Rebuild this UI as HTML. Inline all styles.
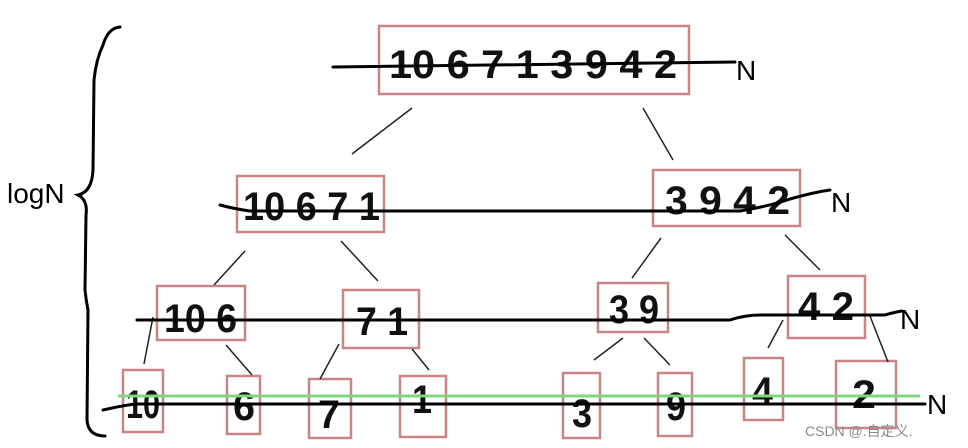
<!DOCTYPE html>
<html><head><meta charset="utf-8"><style>
html,body{margin:0;padding:0;background:#fff;width:968px;height:448px;overflow:hidden}
svg{display:block}
.b{fill:#fff;stroke:#c98585;stroke-width:2.5}
.t{font-family:"Liberation Sans",sans-serif;font-weight:bold;font-size:40px;fill:#111}
.c{stroke:#222;stroke-width:1.5}
.k{stroke:#000;stroke-width:3;fill:none;stroke-linecap:round}
.n{font-family:"Liberation Sans",sans-serif;font-size:28px;fill:#000}
</style></head><body>
<svg width="968" height="448" viewBox="0 0 968 448">
<rect class="b" x="379" y="26" width="310" height="68"/>
<rect class="b" x="237" y="176" width="147" height="56"/>
<rect class="b" x="653" y="170" width="147" height="56"/>
<rect class="b" x="157" y="286" width="88" height="54"/>
<rect class="b" x="343" y="290" width="76" height="58"/>
<rect class="b" x="598" y="283" width="70" height="49"/>
<rect class="b" x="788" y="276" width="77" height="62"/>
<rect class="b" x="123" y="370" width="40" height="62"/>
<rect class="b" x="227" y="376" width="33" height="58"/>
<rect class="b" x="309" y="379" width="42" height="59"/>
<rect class="b" x="400" y="376" width="46" height="61"/>
<rect class="b" x="563" y="373" width="37" height="65"/>
<rect class="b" x="658" y="373" width="34" height="63"/>
<rect class="b" x="744" y="358" width="39" height="62"/>
<rect class="b" x="836" y="361" width="60" height="67"/>
<g class="t">
<text x="389" y="78" textLength="288" lengthAdjust="spacingAndGlyphs">10 6 7 1 3 9 4 2</text>
<text x="243" y="220" textLength="137" lengthAdjust="spacingAndGlyphs">10 6 7 1</text>
<text x="665" y="214" textLength="125" lengthAdjust="spacingAndGlyphs">3 9 4 2</text>
<text x="164" y="332" textLength="73" lengthAdjust="spacingAndGlyphs">10 6</text>
<text x="356" y="335" textLength="52" lengthAdjust="spacingAndGlyphs">7 1</text>
<text x="609" y="323" textLength="50" lengthAdjust="spacingAndGlyphs">3 9</text>
<text x="798" y="320" textLength="56" lengthAdjust="spacingAndGlyphs">4 2</text>
<text x="126" y="418" textLength="34" lengthAdjust="spacingAndGlyphs">10</text>
<text x="233" y="420" textLength="22" lengthAdjust="spacingAndGlyphs">6</text>
<text x="318" y="428" textLength="22" lengthAdjust="spacingAndGlyphs">7</text>
<text x="412" y="413" textLength="20" lengthAdjust="spacingAndGlyphs">1</text>
<text x="572" y="427" textLength="20" lengthAdjust="spacingAndGlyphs">3</text>
<text x="666" y="420" textLength="20" lengthAdjust="spacingAndGlyphs">9</text>
<text x="752" y="405" textLength="21" lengthAdjust="spacingAndGlyphs">4</text>
<text x="852" y="408" textLength="24" lengthAdjust="spacingAndGlyphs">2</text>
</g>
<g class="c">
<line x1="412" y1="108" x2="352" y2="154"/><line x1="643" y1="108" x2="673" y2="160"/>
<line x1="245" y1="251" x2="214" y2="285"/><line x1="341" y1="241" x2="378" y2="281"/>
<line x1="661" y1="238" x2="632" y2="278"/><line x1="785" y1="235" x2="820" y2="270"/>
<line x1="153" y1="317" x2="144" y2="364"/><line x1="226" y1="345" x2="252" y2="375"/>
<line x1="339" y1="344" x2="320" y2="379"/><line x1="412" y1="349" x2="429" y2="370"/>
<line x1="623" y1="338" x2="594" y2="360"/><line x1="644" y1="338" x2="670" y2="365"/>
<line x1="783" y1="320" x2="768" y2="348"/><line x1="870" y1="316" x2="888" y2="362"/>
</g>
<line x1="118" y1="396" x2="920" y2="396" stroke="#7ed67e" stroke-width="3"/>
<path class="k" d="M333 67 L735 62"/>
<path class="k" d="M220 205 Q235 209 250 211 L740 211 Q770 206 790 199 Q815 192 830 190"/>
<path class="k" d="M137 320 L730 320 Q745 315 760 315 L885 315 Q895 312 902 311"/>
<path class="k" d="M103 410 Q120 406 135 404 L925 404"/>
<text class="n" x="736" y="80">N</text>
<text class="n" x="831" y="212">N</text>
<text class="n" x="900" y="329">N</text>
<text class="n" x="927" y="414">N</text>
<text class="n" x="7" y="203">logN</text>
<path class="k" stroke-width="2.5" d="M120 27 Q108 28 103 45 Q96 60 94 80 L93 170 Q92 192 78 195 Q88 200 86 215 L85 290 Q86 300 88 310 L87 420 Q88 436 105 436"/>
<text x="805" y="436" font-family="Liberation Sans,'Noto Sans CJK SC',sans-serif" font-size="14" fill="#8a8a8a">CSDN @.自定义.</text>
</svg>
</body></html>
